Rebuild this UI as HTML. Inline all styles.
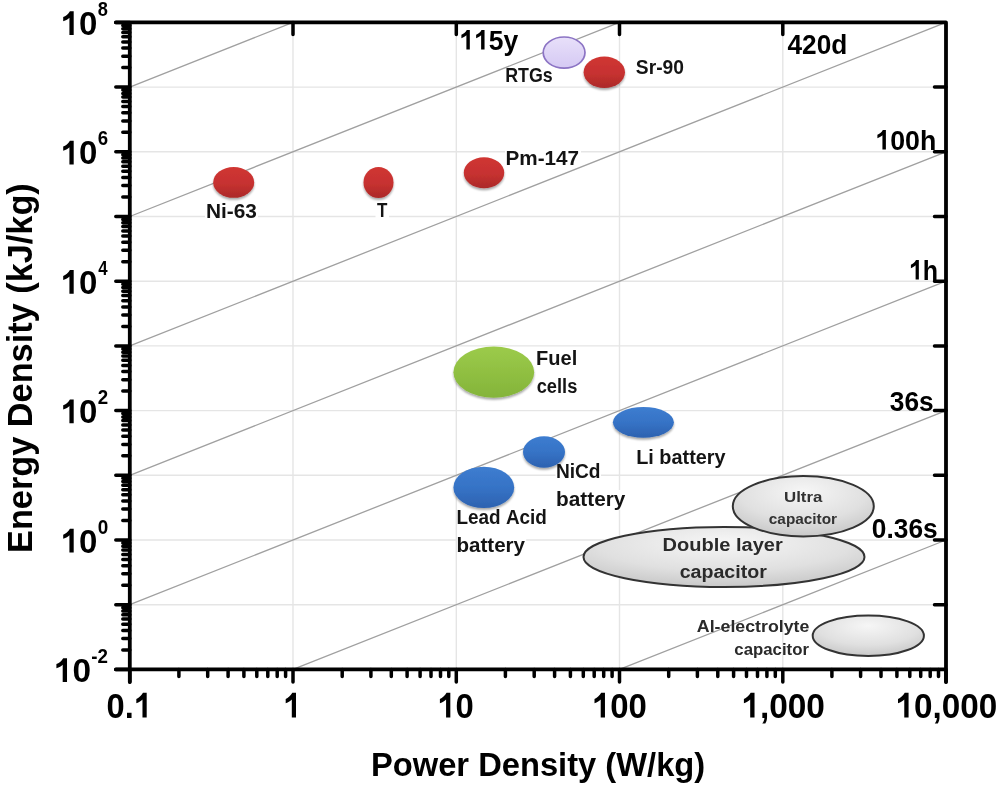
<!DOCTYPE html>
<html><head><meta charset="utf-8"><style>
html,body{margin:0;padding:0;background:#fff;}
body{width:1000px;height:787px;overflow:hidden;}
svg{display:block;filter:blur(0.45px);}
text{font-family:"Liberation Sans",sans-serif;font-kerning:none;}
</style></head><body>
<svg width="1000" height="787" viewBox="0 0 1000 787">
<defs>
<linearGradient id="gr" x1="0" y1="0" x2="0" y2="1"><stop offset="0" stop-color="#d03632"/><stop offset="0.55" stop-color="#c63130"/><stop offset="1" stop-color="#ab2a28"/></linearGradient>
<linearGradient id="gb" x1="0" y1="0" x2="0" y2="1"><stop offset="0" stop-color="#3d7dd0"/><stop offset="0.5" stop-color="#3673c6"/><stop offset="1" stop-color="#2d62b0"/></linearGradient>
<linearGradient id="gg" x1="0" y1="0" x2="0" y2="1"><stop offset="0" stop-color="#9ccb4a"/><stop offset="1" stop-color="#84b43a"/></linearGradient>
<linearGradient id="gp" x1="0" y1="0" x2="0" y2="1"><stop offset="0" stop-color="#e8e0fa"/><stop offset="1" stop-color="#d5c9f3"/></linearGradient>
<radialGradient id="gc" cx="0.5" cy="0.3" r="0.75" fx="0.5" fy="0.25"><stop offset="0" stop-color="#f6f6f6"/><stop offset="0.6" stop-color="#e0e0e0"/><stop offset="1" stop-color="#c4c4c4"/></radialGradient>
<path id="one" d="M810 0H545V1040C470 968 330 880 159 827V1078C307 1126 479 1259 576 1430H810Z"/>
<filter id="sh" x="-20%" y="-20%" width="140%" height="150%"><feGaussianBlur in="SourceAlpha" stdDeviation="1.2"/><feOffset dy="1.8" result="b"/><feComponentTransfer><feFuncA type="linear" slope="0.35"/></feComponentTransfer><feMerge><feMergeNode/><feMergeNode in="SourceGraphic"/></feMerge></filter>
</defs>

<path d="M293.0 22.4V669.4M456.3 22.4V669.4M619.5 22.4V669.4M782.8 22.4V669.4M129.8 604.7H946.0M129.8 540.0H946.0M129.8 475.3H946.0M129.8 410.6H946.0M129.8 345.9H946.0M129.8 281.2H946.0M129.8 216.5H946.0M129.8 151.8H946.0M129.8 87.1H946.0" stroke="#e5e5e5" stroke-width="1.4" fill="none"/>
<path d="M129.8 87.1L293.0 22.4M129.8 216.5L619.5 22.4M129.8 345.9L946.0 22.4M129.8 475.3L946.0 151.8M129.8 604.7L946.0 281.2M293.0 669.4L946.0 410.6M619.5 669.4L946.0 540.0" stroke="#a0a0a0" stroke-width="1.3" fill="none"/>
<rect x="505" y="148.5" width="76" height="17.5" fill="#fff"/>
<rect x="205" y="201" width="53" height="19" fill="#fff"/>
<rect x="375.5" y="201" width="13.5" height="19" fill="#fff"/>
<rect x="555.5" y="463" width="45.5" height="18" fill="#fff"/>
<rect x="555.5" y="490" width="71" height="20" fill="#fff"/>
<rect x="457.2" y="509" width="90" height="18" fill="#fff"/>
<rect x="457.2" y="537" width="69" height="20" fill="#fff"/>
<ellipse cx="564.1" cy="52.6" rx="20.9" ry="15.6" fill="url(#gp)" stroke="#8c74c4" stroke-width="1.7"/>
<ellipse cx="604.3" cy="72.3" rx="20.7" ry="15.7" fill="url(#gr)" filter="url(#sh)"/>
<ellipse cx="233.7" cy="182.4" rx="20.5" ry="15.4" fill="url(#gr)" filter="url(#sh)"/>
<ellipse cx="378.5" cy="182.5" rx="15" ry="15.5" fill="url(#gr)" filter="url(#sh)"/>
<ellipse cx="484" cy="172.7" rx="20.2" ry="15.5" fill="url(#gr)" filter="url(#sh)"/>
<ellipse cx="493.8" cy="372.2" rx="40.4" ry="25.6" fill="url(#gg)" filter="url(#sh)"/>
<ellipse cx="643.4" cy="422.3" rx="30.5" ry="15.4" fill="url(#gb)" filter="url(#sh)"/>
<ellipse cx="544" cy="452" rx="21" ry="15.7" fill="url(#gb)" filter="url(#sh)"/>
<ellipse cx="483.8" cy="487.4" rx="30.4" ry="20.7" fill="url(#gb)" filter="url(#sh)"/>
<ellipse cx="724" cy="557" rx="140.5" ry="30" fill="url(#gc)" stroke="#333" stroke-width="2"/>
<ellipse cx="803.3" cy="506.2" rx="70.5" ry="30.2" fill="url(#gc)" stroke="#333" stroke-width="2"/>
<ellipse cx="868.3" cy="635.7" rx="55.6" ry="20.2" fill="url(#gc)" stroke="#333" stroke-width="2"/>
<text transform="translate(635.85 74.40) scale(0.9623 1)" font-size="20" font-weight="bold" fill="#141414">Sr-90</text>
<text transform="translate(505.21 82.00) scale(0.8909 1)" font-size="20" font-weight="bold" fill="#141414">RTGs</text>
<text transform="translate(505.52 165.30) scale(1.0343 1)" font-size="20" font-weight="bold" fill="#141414">Pm-147</text>
<text transform="translate(206.01 217.60) scale(1.0417 1)" font-size="20" font-weight="bold" fill="#141414">Ni-63</text>
<text transform="translate(377.11 217.00) scale(0.8491 1)" font-size="20" font-weight="bold" fill="#141414">T</text>
<text transform="translate(536.06 364.90) scale(1.0011 1)" font-size="20" font-weight="bold" fill="#141414">Fuel</text>
<text transform="translate(536.69 392.60) scale(0.9142 1)" font-size="20" font-weight="bold" fill="#141414">cells</text>
<text transform="translate(636.17 464.30) scale(0.9946 1)" font-size="20" font-weight="bold" fill="#141414">Li battery</text>
<text transform="translate(555.92 478.30) scale(0.9567 1)" font-size="20" font-weight="bold" fill="#141414">NiCd</text>
<text transform="translate(556.03 505.60) scale(1.0404 1)" font-size="20" font-weight="bold" fill="#141414">battery</text>
<text transform="translate(456.53 524.40) scale(0.9460 1)" font-size="20" font-weight="bold" fill="#141414">Lead Acid</text>
<text transform="translate(456.44 551.80) scale(1.0297 1)" font-size="20" font-weight="bold" fill="#141414">battery</text>
<text transform="translate(783.99 501.60) scale(1.1238 1)" font-size="15" font-weight="bold" fill="#333">Ultra</text>
<text transform="translate(768.80 523.70) scale(1.0246 1)" font-size="15" font-weight="bold" fill="#333">capacitor</text>
<text transform="translate(662.56 551.00) scale(1.0553 1)" font-size="19" font-weight="bold" fill="#2a2a2a">Double layer</text>
<text transform="translate(679.63 578.00) scale(1.0330 1)" font-size="19" font-weight="bold" fill="#2a2a2a">capacitor</text>
<text transform="translate(696.86 631.70) scale(1.0450 1)" font-size="17" font-weight="bold" fill="#2a2a2a">Al-electrolyte</text>
<text transform="translate(734.34 655.10) scale(0.9884 1)" font-size="17" font-weight="bold" fill="#2a2a2a">capacitor</text>
<text transform="translate(0 49.50) scale(0.9455540355677162 1.0)" x="516.94 532.51" y="0" font-size="28" font-weight="bold" fill="#000">5y</text><use href="#one" fill="#000" transform="translate(459.34 49.50) scale(0.01293 -0.01367)"/><use href="#one" fill="#000" transform="translate(474.07 49.50) scale(0.01293 -0.01367)"/>
<text transform="translate(0 53.50) scale(0.9374373294408842 1.0)" x="840.06 855.63 871.20 886.78" y="0" font-size="28" font-weight="bold" fill="#000">420d</text>
<text transform="translate(0 149.50) scale(0.954762991458565 1.0)" x="932.37 947.94 963.51" y="0" font-size="28" font-weight="bold" fill="#000">00h</text><use href="#one" fill="#000" transform="translate(875.32 149.50) scale(0.01305 -0.01367)"/>
<text transform="translate(0 279.50) scale(0.8934274850624676 1.0)" x="1032.96" y="0" font-size="28" font-weight="bold" fill="#000">h</text><use href="#one" fill="#000" transform="translate(908.96 279.50) scale(0.01221 -0.01367)"/>
<text transform="translate(0 410.50) scale(0.9393270150421713 1.0)" x="947.27 962.84 978.41" y="0" font-size="28" font-weight="bold" fill="#000">36s</text>
<text transform="translate(0 538.00) scale(0.9393548387096781 1.0)" x="928.15 943.72 951.50 967.07 982.64" y="0" font-size="28" font-weight="bold" fill="#000">0.36s</text>
<path d="M115.8 669.4H129.8M122.8 649.9H129.8M122.8 638.5H129.8M122.8 630.4H129.8M122.8 624.2H129.8M122.8 619.1H129.8M122.8 614.7H129.8M122.8 611.0H129.8M122.8 607.7H129.8M115.8 604.7H129.8M122.8 585.2H129.8M122.8 573.8H129.8M122.8 565.7H129.8M122.8 559.5H129.8M122.8 554.4H129.8M122.8 550.0H129.8M122.8 546.3H129.8M122.8 543.0H129.8M115.8 540.0H129.8M122.8 520.5H129.8M122.8 509.1H129.8M122.8 501.0H129.8M122.8 494.8H129.8M122.8 489.7H129.8M122.8 485.3H129.8M122.8 481.6H129.8M122.8 478.3H129.8M115.8 475.3H129.8M122.8 455.8H129.8M122.8 444.4H129.8M122.8 436.3H129.8M122.8 430.1H129.8M122.8 425.0H129.8M122.8 420.6H129.8M122.8 416.9H129.8M122.8 413.6H129.8M115.8 410.6H129.8M122.8 391.1H129.8M122.8 379.7H129.8M122.8 371.6H129.8M122.8 365.4H129.8M122.8 360.3H129.8M122.8 355.9H129.8M122.8 352.2H129.8M122.8 348.9H129.8M115.8 345.9H129.8M122.8 326.4H129.8M122.8 315.0H129.8M122.8 306.9H129.8M122.8 300.7H129.8M122.8 295.6H129.8M122.8 291.2H129.8M122.8 287.5H129.8M122.8 284.2H129.8M115.8 281.2H129.8M122.8 261.7H129.8M122.8 250.3H129.8M122.8 242.2H129.8M122.8 236.0H129.8M122.8 230.9H129.8M122.8 226.5H129.8M122.8 222.8H129.8M122.8 219.5H129.8M115.8 216.5H129.8M122.8 197.0H129.8M122.8 185.6H129.8M122.8 177.5H129.8M122.8 171.3H129.8M122.8 166.2H129.8M122.8 161.8H129.8M122.8 158.1H129.8M122.8 154.8H129.8M115.8 151.8H129.8M122.8 132.3H129.8M122.8 120.9H129.8M122.8 112.8H129.8M122.8 106.6H129.8M122.8 101.5H129.8M122.8 97.1H129.8M122.8 93.4H129.8M122.8 90.1H129.8M115.8 87.1H129.8M122.8 67.6H129.8M122.8 56.2H129.8M122.8 48.1H129.8M122.8 41.9H129.8M122.8 36.8H129.8M122.8 32.4H129.8M122.8 28.7H129.8M122.8 25.4H129.8M115.8 22.4H129.8M129.8 669.4V682.0M178.9 669.4V676.4M207.7 669.4V676.4M228.1 669.4V676.4M243.9 669.4V676.4M256.8 669.4V676.4M267.8 669.4V676.4M277.2 669.4V676.4M285.6 669.4V676.4M293.0 669.4V682.0M342.2 669.4V676.4M370.9 669.4V676.4M391.3 669.4V676.4M407.1 669.4V676.4M420.1 669.4V676.4M431.0 669.4V676.4M440.5 669.4V676.4M448.8 669.4V676.4M456.3 669.4V682.0M505.4 669.4V676.4M534.2 669.4V676.4M554.6 669.4V676.4M570.4 669.4V676.4M583.3 669.4V676.4M594.2 669.4V676.4M603.7 669.4V676.4M612.1 669.4V676.4M619.5 669.4V682.0M668.7 669.4V676.4M697.4 669.4V676.4M717.8 669.4V676.4M733.6 669.4V676.4M746.5 669.4V676.4M757.5 669.4V676.4M766.9 669.4V676.4M775.3 669.4V676.4M782.8 669.4V682.0M831.9 669.4V676.4M860.6 669.4V676.4M881.0 669.4V676.4M896.9 669.4V676.4M909.8 669.4V676.4M920.7 669.4V676.4M930.2 669.4V676.4M938.5 669.4V676.4M946.0 669.4V682.0M293.0 22.4V34.4M456.3 22.4V34.4M619.5 22.4V34.4M782.8 22.4V34.4M934.5 604.7H946.0M934.5 540.0H946.0M934.5 475.3H946.0M934.5 410.6H946.0M934.5 345.9H946.0M934.5 281.2H946.0M934.5 216.5H946.0M934.5 151.8H946.0M934.5 87.1H946.0" stroke="#000" stroke-width="3.5" stroke-linecap="round" fill="none"/>
<path d="M115.8 22.4H946.0V682.0M946.0 669.4H115.8M129.8 22.4V682.0" stroke="#000" stroke-width="3.8" stroke-linecap="round" stroke-linejoin="round" fill="none"/>
<text transform="translate(0 717.50) scale(0.9590190446305724 1.04)" x="111.17 130.08" y="0" font-size="34" font-weight="bold" fill="#000">0.</text><use href="#one" fill="#000" transform="translate(133.80 717.50) scale(0.01592 -0.01727)"/>
<use href="#one" fill="#000" transform="translate(283.18 717.50) scale(0.01582 -0.01727)"/>
<text transform="translate(0 717.50) scale(0.9649486920075162 1.04)" x="472.15" y="0" font-size="34" font-weight="bold" fill="#000">0</text><use href="#one" fill="#000" transform="translate(437.35 717.50) scale(0.01602 -0.01727)"/>
<text transform="translate(0 717.50) scale(0.9678638941398866 1.04)" x="630.51 649.42" y="0" font-size="34" font-weight="bold" fill="#000">00</text><use href="#one" fill="#000" transform="translate(591.95 717.50) scale(0.01607 -0.01727)"/>
<text transform="translate(0 717.50) scale(0.9833578330963689 1.04)" x="772.76 782.21 801.11 820.02" y="0" font-size="34" font-weight="bold" fill="#000">,000</text><use href="#one" fill="#000" transform="translate(741.30 717.50) scale(0.01633 -0.01727)"/>
<text transform="translate(0 717.50) scale(0.9784108561212235 1.04)" x="934.08 952.99 962.44 981.35 1000.26" y="0" font-size="34" font-weight="bold" fill="#000">0,000</text><use href="#one" fill="#000" transform="translate(895.42 717.50) scale(0.01624 -0.01727)"/>
<text transform="translate(0 682.00) scale(0.9827084838849544 1.0)" x="73.66" y="0" font-size="34" font-weight="bold" fill="#000">0</text><use href="#one" fill="#000" transform="translate(53.81 682.00) scale(0.01631 -0.01660)"/>
<text transform="translate(0 663.00) scale(0.9622602432729008 1.0)" x="94.85 101.34" y="0" font-size="19.5" font-weight="bold" fill="#000">-2</text>
<text transform="translate(0 552.60) scale(0.9708686226333286 1.0)" x="81.37" y="0" font-size="34" font-weight="bold" fill="#000">0</text><use href="#one" fill="#000" transform="translate(60.64 552.60) scale(0.01612 -0.01660)"/>
<text transform="translate(0 533.60) scale(0.9704628020849771 1.0)" x="100.62" y="0" font-size="19.5" font-weight="bold" fill="#000">0</text>
<text transform="translate(0 423.20) scale(0.9708686226333286 1.0)" x="81.37" y="0" font-size="34" font-weight="bold" fill="#000">0</text><use href="#one" fill="#000" transform="translate(60.64 423.20) scale(0.01612 -0.01660)"/>
<text transform="translate(0 404.20) scale(0.9586518957715697 1.0)" x="101.97" y="0" font-size="19.5" font-weight="bold" fill="#000">2</text>
<text transform="translate(0 293.80) scale(0.9708686226333286 1.0)" x="81.37" y="0" font-size="34" font-weight="bold" fill="#000">0</text><use href="#one" fill="#000" transform="translate(60.64 293.80) scale(0.01612 -0.01660)"/>
<text transform="translate(0 274.80) scale(0.8616506556342459 1.0)" x="113.90" y="0" font-size="19.5" font-weight="bold" fill="#000">4</text>
<text transform="translate(0 164.40) scale(0.9708686226333286 1.0)" x="81.37" y="0" font-size="34" font-weight="bold" fill="#000">0</text><use href="#one" fill="#000" transform="translate(60.64 164.40) scale(0.01612 -0.01660)"/>
<text transform="translate(0 145.40) scale(0.9547785547785532 1.0)" x="102.35" y="0" font-size="19.5" font-weight="bold" fill="#000">6</text>
<text transform="translate(0 35.00) scale(0.9708686226333286 1.0)" x="81.37" y="0" font-size="34" font-weight="bold" fill="#000">0</text><use href="#one" fill="#000" transform="translate(60.64 35.00) scale(0.01612 -0.01660)"/>
<text transform="translate(0 16.00) scale(0.9349463592787021 1.0)" x="104.63" y="0" font-size="19.5" font-weight="bold" fill="#000">8</text>
<text x="371" y="776" font-size="32.7" font-weight="bold">Power Density (W/kg)</text>
<text transform="translate(32,553) rotate(-90)" x="0" y="0" font-size="34.3" font-weight="bold">Energy Density (kJ/kg)</text>
</svg></body></html>
